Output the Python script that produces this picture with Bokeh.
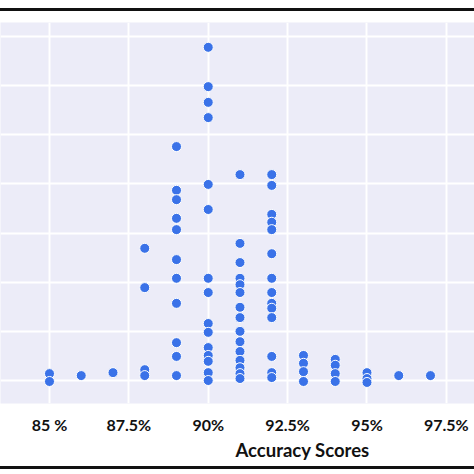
from bokeh.plotting import figure
from bokeh.models import FixedTicker, Title, Div, ColumnDataSource
from bokeh.layouts import column
from bokeh.embed import file_html
from bokeh.resources import INLINE

# Accuracy levels (%) and the vertical positions of the points in each column
acc_85 = [1.4, -0.2]
acc_86 = [1.0]
acc_87 = [1.6]
acc_88 = [26.9, 18.9, 2.2, 1.0]
acc_89 = [47.6, 38.7, 36.8, 33.0, 30.7, 24.6, 20.8, 15.7, 7.7, 4.9, 1.0]
acc_90 = [67.8, 59.8, 56.6, 53.5, 39.9, 34.8, 20.8, 17.9, 11.6, 9.8, 6.7, 5.1, 3.9, 1.6, 0.0]
acc_91 = [41.9, 27.9, 24.0, 20.8, 19.5, 17.9, 14.9, 12.8, 10.0, 7.9, 5.9, 4.1, 2.6, 1.4, 0.4]
acc_92 = [41.9, 39.7, 33.8, 32.2, 30.7, 25.8, 20.8, 17.9, 15.7, 14.7, 12.8, 4.9, 1.6, 0.6]
acc_93 = [5.1, 3.5, 1.8, -0.2]
acc_94 = [4.3, 3.1, 1.4, -0.2]
acc_95 = [1.6, 0.4, -0.4]
acc_96 = [1.0]
acc_97 = [1.0]

columns = {85: acc_85, 86: acc_86, 87: acc_87, 88: acc_88, 89: acc_89, 90: acc_90,
           91: acc_91, 92: acc_92, 93: acc_93, 94: acc_94, 95: acc_95, 96: acc_96, 97: acc_97}

tick_values = [85.0, 87.5, 90.0, 92.5, 95.0, 97.5]
tick_labels = ["85 %", "87.5%", "90%", "92.5%", "95%", "97.5%"]
y_grid = [0, 10, 20, 30, 40, 50, 60, 70]

xs, ys = [], []
for acc, vals in columns.items():
    for v in vals:
        xs.append(acc)
        ys.append(v)
src = ColumnDataSource(dict(x=xs, y=ys))

p = figure(frame_width=474, frame_height=381,
           x_range=(83.457, 98.386), y_range=(-4.68, 72.85),
           output_backend="svg", toolbar_location=None,
           min_border_left=0, min_border_right=0, min_border_top=11, min_border_bottom=63,
           background_fill_color="#ECECF8", border_fill_color="white",
           outline_line_color=None)

p.scatter(x="x", y="y", source=src, size=10, fill_color="#3A72E8",
          line_color="white", line_width=1)

p.xaxis.ticker = FixedTicker(ticks=tick_values)
p.xaxis.major_label_overrides = dict(zip(tick_values, tick_labels))
p.xaxis.axis_line_color = None
p.xaxis.major_tick_line_color = None
p.xaxis.minor_tick_line_color = None
p.xaxis.major_label_text_font = "Lato"
p.xaxis.major_label_text_font_style = "bold"
p.xaxis.major_label_text_font_size = "16px"
p.xaxis.major_label_text_color = "#111111"
p.xaxis.major_label_standoff = 5

p.yaxis.ticker = FixedTicker(ticks=y_grid)
p.yaxis.visible = False

p.xgrid.grid_line_color = "white"
p.xgrid.grid_line_width = 2
p.ygrid.grid_line_color = "white"
p.ygrid.grid_line_width = 2

p.add_layout(Title(text="Accuracy Scores", align="left", offset=235,
                   text_font="Lato", text_font_style="bold", text_font_size="18.5px",
                   text_color="#111111", standoff=0), "below")

top_line = Div(text="", width=474, height=3, margin=(8, 0, 0, 0),
               styles={"background-color": "#111111"})
bottom_line = Div(text="", width=474, height=3, margin=(0, 0, 0, 0),
                  styles={"background-color": "#111111"})

layout = column(top_line, p, bottom_line, spacing=0)

open("out.html", "w").write(file_html(layout, INLINE))
